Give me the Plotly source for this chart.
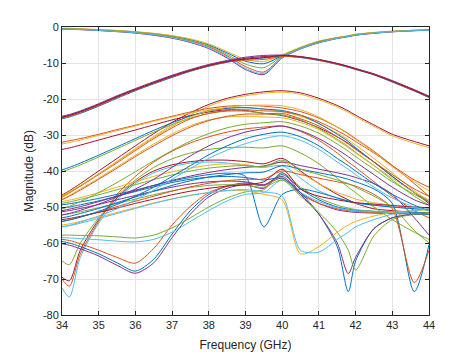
import plotly.graph_objects as go

freq_ghz = [34, 34.2, 34.5, 35, 35.5, 36, 36.5, 37, 37.5, 38, 38.5, 39, 39.5, 40,
            40.5, 41, 41.5, 41.8, 42, 42.5, 43, 43.6, 44]

# Reflection-like curves (top)
A1 = [-0.4,-0.45,-0.55,-0.8,-1.0,-1.35,-1.85,-2.5,-3.5,-5.0,-7.2,-9.5,-10.2,-8.0,-5.8,-4.1,-3.0,-2.5,-2.1,-1.6,-1.2,-0.9,-0.8]
A2 = [-0.5,-0.55,-0.65,-0.9,-1.15,-1.5,-2.0,-2.8,-3.9,-5.5,-8.0,-11.0,-12.5,-8.3,-5.9,-4.2,-3.1,-2.6,-2.2,-1.7,-1.3,-1.0,-0.85]
A3 = [-0.3,-0.35,-0.5,-0.7,-0.95,-1.3,-1.75,-2.4,-3.3,-4.7,-6.8,-9.0,-9.6,-7.7,-5.6,-3.9,-2.9,-2.4,-2.0,-1.5,-1.15,-0.9,-0.75]
A4 = [-0.6,-0.65,-0.75,-1.0,-1.3,-1.7,-2.3,-3.1,-4.3,-6.0,-8.6,-11.8,-13.2,-8.6,-6.1,-4.4,-3.2,-2.7,-2.3,-1.75,-1.35,-1.05,-0.9]
A5 = [-0.45,-0.5,-0.6,-0.85,-1.1,-1.45,-1.95,-2.65,-3.7,-5.2,-7.6,-10.3,-11.3,-8.1,-5.8,-4.0,-3.0,-2.5,-2.1,-1.6,-1.25,-0.95,-0.8]
A6 = [-0.55,-0.6,-0.7,-0.95,-1.25,-1.6,-2.15,-2.95,-4.1,-5.8,-8.3,-11.5,-12.9,-8.5,-6.0,-4.3,-3.15,-2.6,-2.25,-1.7,-1.3,-1.0,-0.85]

# Transmission-like curves
B1 = [-25.0,-24.5,-23.5,-21.5,-19.3,-17.3,-15.4,-13.6,-12.0,-10.6,-9.5,-8.7,-8.2,-8.0,-8.3,-9.1,-10.2,-11.0,-11.6,-13.1,-15.0,-17.5,-19.3]
B2 = [-25.5,-25.0,-24.0,-22.0,-19.8,-17.7,-15.8,-14.0,-12.3,-10.9,-9.8,-9.0,-8.6,-8.1,-8.5,-9.3,-10.4,-11.2,-11.8,-13.3,-15.3,-17.8,-19.6]
B3 = [-24.8,-24.3,-23.3,-21.3,-19.1,-17.1,-15.2,-13.4,-11.8,-10.4,-9.3,-8.4,-7.9,-7.8,-8.2,-9.0,-10.1,-10.9,-11.5,-13.0,-14.9,-17.4,-19.2]
B4 = [-25.3,-24.8,-23.8,-21.8,-19.6,-17.5,-15.6,-13.8,-12.2,-10.8,-9.7,-9.2,-9.0,-8.2,-8.4,-9.2,-10.3,-11.1,-11.7,-13.2,-15.2,-17.7,-19.5]
B5 = [-25.1,-24.6,-23.6,-21.6,-19.4,-17.4,-15.5,-13.7,-12.1,-10.7,-9.6,-8.9,-8.5,-7.9,-8.3,-9.1,-10.2,-11.0,-11.7,-13.2,-15.1,-17.6,-19.4]

C1 = [-46.7,-45.5,-43.5,-40.0,-36.5,-33.0,-29.6,-26.5,-23.8,-21.5,-19.8,-18.7,-18.0,-17.7,-18.3,-19.8,-21.8,-23.3,-24.5,-27.2,-29.8,-31.8,-33.0]
C2 = [-47.3,-46.2,-44.2,-40.8,-37.3,-33.8,-30.4,-27.2,-24.4,-22.0,-20.2,-19.1,-18.4,-18.1,-18.7,-20.2,-22.2,-23.7,-24.9,-27.6,-30.2,-32.3,-33.5]

D1 = [-32.0,-31.6,-31.0,-29.8,-28.5,-27.3,-26.0,-24.8,-23.6,-22.6,-22.0,-21.8,-22.0,-22.5,-23.5,-25.3,-27.8,-29.6,-31.0,-34.5,-38.5,-43.5,-47.0]
D2 = [-32.5,-32.1,-31.4,-30.1,-28.8,-27.5,-26.2,-25.0,-23.9,-23.0,-22.5,-22.4,-22.8,-23.5,-24.8,-26.8,-29.5,-31.3,-32.8,-36.5,-40.5,-45.5,-48.5]
D3 = [-34.0,-33.6,-32.8,-31.4,-30.0,-28.6,-27.2,-25.8,-24.6,-23.6,-23.0,-23.2,-24.0,-24.6,-26.0,-28.0,-30.5,-32.3,-33.8,-37.5,-41.5,-46.0,-49.0]

E1 = [-39.7,-39.0,-37.8,-35.6,-33.3,-31.0,-28.7,-26.6,-24.7,-23.3,-22.6,-22.4,-22.8,-23.2,-24.5,-26.8,-29.8,-31.8,-33.5,-37.5,-41.5,-46.0,-48.5]
E2 = [-40.2,-39.5,-38.3,-36.1,-33.8,-31.5,-29.2,-27.1,-25.3,-24.0,-23.4,-23.4,-24.0,-24.4,-25.8,-28.2,-31.2,-33.2,-34.8,-38.5,-42.5,-47.0,-49.5]

F1 = [-69.5,-70.5,-62.0,-53.5,-47.5,-43.0,-40.0,-38.3,-37.4,-37.0,-37.0,-37.4,-38.0,-36.5,-40.0,-43.5,-46.5,-48.0,-49.0,-50.5,-51.0,-51.5,-51.8]
F2 = [-70.0,-72.0,-63.0,-54.0,-46.5,-41.5,-37.5,-34.5,-32.2,-30.5,-29.2,-28.3,-27.8,-27.5,-29.0,-31.5,-35.0,-37.5,-39.0,-43.0,-47.0,-51.0,-53.0]
F3 = [-72.5,-75.0,-64.0,-54.5,-48.0,-43.5,-40.5,-38.8,-37.8,-37.5,-37.8,-38.5,-39.0,-38.5,-42.0,-45.5,-47.5,-48.5,-49.0,-49.5,-50.0,-50.5,-50.8]
F4 = [-65.0,-66.0,-60.0,-53.0,-47.0,-42.5,-39.0,-36.6,-35.0,-34.0,-33.5,-33.4,-33.6,-33.0,-35.0,-38.0,-42.0,-44.5,-46.0,-50.0,-53.5,-57.0,-59.0]

G1 = [-59.6,-60.0,-61.0,-63.0,-65.5,-67.8,-64.5,-57.5,-51.0,-46.5,-44.2,-43.3,-44.0,-41.0,-45.0,-48.0,-50.0,-50.6,-50.9,-51.2,-51.4,-51.5,-51.5]
G2 = [-60.2,-60.6,-61.6,-63.6,-66.2,-68.4,-65.5,-58.5,-52.0,-47.2,-44.8,-43.8,-44.8,-40.5,-46.0,-49.0,-50.8,-51.3,-51.5,-51.7,-51.8,-51.8,-51.8]
G3 = [-59.0,-59.3,-60.2,-62.0,-64.0,-65.6,-61.5,-55.0,-49.8,-46.0,-44.2,-43.5,-44.0,-42.0,-46.5,-49.0,-50.5,-51.0,-51.2,-51.5,-51.8,-52.0,-52.0]

H1 = [-57.8,-57.8,-57.9,-58.0,-58.3,-58.6,-57.8,-55.8,-53.0,-50.0,-47.5,-45.8,-45.2,-40.5,-44.5,-47.5,-49.5,-50.3,-50.7,-51.2,-51.5,-51.8,-52.0]
H2 = [-58.5,-58.6,-58.8,-59.1,-59.5,-59.7,-59.0,-57.0,-54.0,-51.0,-48.3,-46.5,-46.0,-42.5,-46.0,-48.5,-50.2,-50.8,-51.0,-51.3,-51.5,-51.7,-51.8]

J1 = [-48.5,-48.1,-47.4,-46.0,-44.5,-43.0,-41.5,-40.2,-39.2,-38.4,-38.0,-38.2,-39.0,-37.5,-40.5,-43.5,-46.0,-47.0,-47.8,-48.8,-49.5,-50.0,-50.3]
J2 = [-49.4,-49.1,-48.6,-47.6,-46.5,-45.3,-44.0,-42.8,-41.8,-41.0,-40.6,-41.5,-55.5,-46.5,-45.0,-46.0,-47.5,-48.3,-48.8,-49.5,-50.0,-50.5,-50.8]
J3 = [-50.3,-50.0,-49.4,-48.3,-47.0,-45.7,-44.4,-43.2,-42.3,-41.7,-41.5,-41.8,-42.5,-42.0,-46.0,-52.0,-61.0,-73.5,-65.0,-56.0,-53.0,-52.0,-52.0]
J4 = [-51.3,-51.0,-50.4,-49.3,-48.0,-46.8,-45.6,-44.5,-43.6,-43.0,-42.8,-43.0,-43.8,-41.5,-46.5,-52.0,-60.0,-68.5,-64.0,-56.0,-53.0,-52.0,-51.5]
J5 = [-52.2,-51.9,-51.3,-50.2,-49.0,-47.8,-46.6,-45.5,-44.6,-44.0,-43.8,-44.0,-44.5,-42.5,-47.0,-51.5,-57.0,-62.0,-67.5,-58.0,-53.5,-52.0,-51.5]
J6 = [-53.0,-52.6,-51.8,-50.4,-48.8,-47.2,-45.6,-44.0,-42.7,-41.7,-41.0,-40.5,-40.3,-38.5,-39.5,-40.5,-41.5,-42.3,-43.0,-45.0,-49.0,-73.5,-60.5]
J7 = [-54.0,-53.6,-52.8,-51.4,-49.9,-48.4,-47.0,-45.6,-44.4,-43.4,-42.7,-42.3,-42.2,-40.0,-41.0,-42.0,-43.0,-43.6,-44.2,-46.5,-50.5,-71.0,-62.0]
J8 = [-55.0,-54.7,-54.0,-52.8,-51.5,-50.2,-48.9,-47.7,-46.7,-46.0,-45.5,-45.5,-46.5,-48.0,-63.0,-61.0,-57.0,-55.0,-54.0,-52.5,-51.5,-51.0,-50.8]
J9 = [-55.5,-55.2,-54.5,-53.2,-51.8,-50.4,-49.0,-47.8,-46.8,-46.0,-45.4,-45.2,-45.8,-47.0,-62.0,-62.5,-59.0,-57.0,-55.5,-53.5,-52.0,-51.0,-50.5]
J10 = [-53.5,-53.2,-52.6,-51.5,-50.3,-49.0,-47.8,-46.6,-45.6,-44.8,-44.2,-43.8,-43.0,-39.5,-45.0,-47.0,-48.0,-48.5,-48.8,-49.2,-49.6,-50.0,-50.2]
J11 = [-51.0,-50.6,-49.9,-48.5,-47.0,-45.5,-44.0,-42.6,-41.4,-40.4,-39.6,-39.0,-38.6,-37.5,-38.5,-39.5,-40.5,-41.2,-41.8,-43.5,-46.5,-53.0,-57.8]
J12 = [-49.0,-48.6,-47.9,-46.6,-45.2,-43.8,-42.4,-41.1,-40.0,-39.2,-38.7,-38.5,-38.8,-37.0,-39.5,-41.0,-42.5,-43.5,-44.5,-47.0,-50.0,-56.5,-60.0]

K1 = [-47.1,-46.0,-44.2,-41.0,-37.7,-34.3,-31.0,-28.0,-25.5,-24.0,-23.2,-23.0,-23.3,-23.5,-24.5,-26.3,-28.8,-30.5,-31.8,-35.0,-38.5,-42.5,-44.5]
K2 = [-47.8,-46.8,-45.0,-42.0,-38.8,-35.6,-32.5,-29.7,-27.4,-25.8,-25.0,-24.8,-25.0,-25.2,-26.5,-28.5,-31.5,-33.5,-35.0,-38.5,-42.0,-46.0,-48.0]

L1 = [-52.2,-51.8,-50.9,-49.2,-47.2,-45.0,-42.3,-39.0,-35.8,-33.0,-30.8,-29.2,-28.2,-27.5,-28.8,-31.0,-34.0,-36.0,-37.5,-41.0,-44.5,-48.0,-49.5]
L2 = [-54.0,-53.6,-52.8,-51.2,-49.3,-47.0,-44.5,-41.5,-38.5,-35.5,-33.0,-31.0,-29.8,-29.2,-30.5,-33.0,-36.5,-38.5,-40.0,-43.5,-46.5,-49.5,-51.0]

M1 = [-48.0,-47.0,-45.3,-42.3,-39.2,-36.0,-33.0,-30.2,-27.8,-26.0,-24.8,-24.2,-24.2,-24.0,-25.5,-27.5,-30.5,-32.5,-34.0,-37.5,-41.0,-45.0,-47.0]
M2 = [-50.5,-49.8,-48.5,-46.0,-43.2,-40.2,-37.2,-34.3,-31.7,-29.6,-28.0,-27.0,-26.6,-26.3,-27.5,-29.5,-32.5,-34.5,-36.0,-39.5,-43.0,-46.5,-48.5]
M3 = [-46.9,-45.8,-44.0,-40.8,-37.4,-34.0,-30.7,-27.6,-25.0,-23.3,-22.3,-21.8,-21.7,-21.9,-23.0,-25.0,-27.8,-29.8,-31.2,-34.8,-38.8,-43.0,-45.5]
M4 = [-55.5,-55.1,-54.2,-52.5,-50.5,-48.0,-45.3,-42.3,-39.3,-36.5,-34.2,-32.4,-31.0,-30.2,-31.5,-34.0,-37.5,-39.5,-41.0,-44.5,-47.5,-50.0,-51.0]

x_ticks = [34, 35, 36, 37, 38, 39, 40, 41, 42, 43, 44]
y_ticks = [0, -10, -20, -30, -40, -50, -60, -70, -80]

curves = [
    ("A1", A1, 0), ("A2", A2, 1), ("A3", A3, 2), ("A4", A4, 3), ("A5", A5, 4), ("A6", A6, 5),
    ("B1", B1, 6), ("B2", B2, 0), ("B3", B3, 3), ("B4", B4, 1), ("B5", B5, 6),
    ("C1", C1, 6), ("C2", C2, 2),
    ("D1", D1, 1), ("D2", D2, 2), ("D3", D3, 6),
    ("E1", E1, 0), ("E2", E2, 4),
    ("F1", F1, 6), ("F2", F2, 1), ("F3", F3, 5), ("F4", F4, 4),
    ("G1", G1, 0), ("G2", G2, 3), ("G3", G3, 1),
    ("H1", H1, 4), ("H2", H2, 5),
    ("J1", J1, 2), ("J2", J2, 0), ("J3", J3, 0), ("J4", J4, 3), ("J5", J5, 4),
    ("J6", J6, 0), ("J7", J7, 1), ("J8", J8, 2), ("J9", J9, 5), ("J10", J10, 6),
    ("J11", J11, 3), ("J12", J12, 4),
    ("K1", K1, 1), ("K2", K2, 2),
    ("L1", L1, 3), ("L2", L2, 0),
    ("M1", M1, 1), ("M2", M2, 4), ("M3", M3, 2), ("M4", M4, 5),
]

palette = ['#0072BD', '#D95319', '#EDB120', '#7E2F8E', '#77AC30', '#4DBEEE', '#A2142F']

fig = go.Figure()
for name, vals, ci in curves:
    fig.add_trace(go.Scatter(
        x=freq_ghz, y=vals, mode='lines', name=name,
        line=dict(color=palette[ci], width=1, shape='spline', smoothing=0.8),
        showlegend=False, hoverinfo='skip'))

font_family = "Liberation Sans, Arial, sans-serif"
axis_common = dict(
    showline=True, linecolor='#262626', linewidth=1, mirror='ticks',
    ticks='inside', ticklen=4, tickcolor='#262626',
    showgrid=True, gridcolor='#e3e3e3', gridwidth=1, zeroline=False,
    automargin=False,
    tickfont=dict(family=font_family, size=11, color='#262626'),
)

fig.update_layout(
    width=474, height=355,
    margin=dict(l=54, r=53, t=19, b=48),
    paper_bgcolor='white', plot_bgcolor='white',
    font=dict(family=font_family, color='#262626'),
    xaxis=dict(range=[34, 44], tickvals=x_ticks, ticktext=[str(v) for v in x_ticks],
               title=dict(text='Frequency (GHz)', font=dict(size=12, color='#262626'), standoff=10),
               **axis_common),
    yaxis=dict(range=[-80, 0], tickvals=y_ticks, ticktext=[str(v) for v in y_ticks],
               title=dict(text='Magnitude (dB)', font=dict(size=12, color='#262626'), standoff=6),
               **axis_common),
)

fig.write_html("out.html")
